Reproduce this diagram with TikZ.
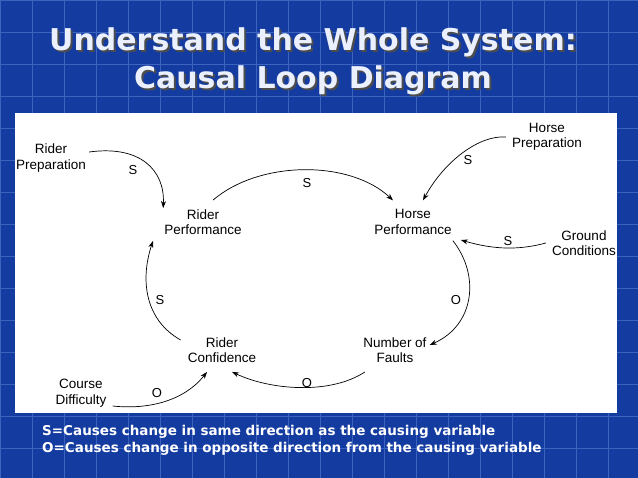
\documentclass[tikz,border=0pt]{standalone}
\usepackage{fontspec}
\setmainfont{Liberation Sans}
\newfontfamily\wideb{DejaVu Sans}
\usetikzlibrary{arrows.meta,calc}
\definecolor{bgblue}{RGB}{20,60,160}
\definecolor{gridblue}{RGB}{60,100,190}
\definecolor{titlewhite}{RGB}{235,240,255}
\tikzset{
  var/.style={font=\fontsize{13.5}{15.5}\selectfont, align=center, inner sep=1pt},
  lab/.style={font=\fontsize{13}{15}\selectfont, inner sep=1pt},
  link/.style={-{Stealth[length=7pt,width=5pt]}, line width=0.7pt},
  ttl/.style={font=\wideb\bfseries\fontsize{30}{38}\selectfont, align=center},
  leg/.style={font=\wideb\bfseries\fontsize{13.5}{15}\selectfont, text=white, anchor=west, inner sep=0pt}
}
\begin{document}
\begin{tikzpicture}[x=1pt,y=-1pt]
\useasboundingbox (0,0) rectangle (638,478);
\fill[bgblue] (0,0) rectangle (638,478);
\foreach \i in {0,32,...,638} \draw[gridblue, line width=0.4pt] (\i,0) -- (\i,478);
\foreach \j in {0,32,...,478} \draw[gridblue, line width=0.4pt] (0,\j) -- (638,\j);
\node[ttl, text=black!70] at (315,63) {Understand the Whole System:\\Causal Loop Diagram};
\node[ttl, text=titlewhite] (title) at (313,61) {Understand the Whole System:\\Causal Loop Diagram};
\fill[white] (15,113) rectangle (617,413);
\node[var, anchor=west] (rprep) at (15,158) {Rider\\Preparation};
\node[var] (rperf) at (203,222) {Rider\\Performance};
\node[var] (hperf) at (413,222) {Horse\\Performance};
\node[var] (hprep) at (547,137) {Horse\\Preparation};
\node[var] (ground) at (584,243) {Ground\\Conditions};
\node[var] (faults) at (395,350) {Number of\\Faults};
\node[var] (rconf) at (222,350) {Rider\\Confidence};
\node[var] (course) at (81,393) {Course\\Difficulty};
\draw[link] ($(rprep.east)+(2,-6)$) .. controls (140,145) and (165,170) .. (rperf.north west);
\draw[link] ($(rperf.north)+(10,-8)$) .. controls (260,160) and (350,160) .. ($(hperf.north)+(-20,-8)$);
\draw[link] ($(hprep.west)+(-5,0)$) .. controls (480,135) and (445,160) .. ($(hperf.north)+(10,-8)$);
\draw[link] ($(ground.west)+(-5,0)$) .. controls (520,250) and (495,250) .. ($(hperf.east)+(8,18)$);
\draw[link] ($(hperf.south east)+(0,5)$) .. controls (480,275) and (475,325) .. ($(faults.east)+(2,-5)$);
\draw[link] ($(faults.south)+(-30,8)$) .. controls (330,395) and (270,390) .. ($(rconf.south)+(10,8)$);
\draw[link] ($(rconf.west)+(-6,-10)$) .. controls (145,320) and (140,280) .. ($(rperf.south)+(-50,5)$);
\draw[link] ($(course.east)+(5,13)$) .. controls (150,410) and (185,400) .. ($(rconf.south)+(-15,8)$);
\node[lab] at (133,170) {S};
\node[lab] at (307,183) {S};
\node[lab] at (468,160) {S};
\node[lab] at (508,241) {S};
\node[lab] at (456,300) {O};
\node[lab] at (307,383) {O};
\node[lab] at (160,300) {S};
\node[lab] at (157,393) {O};
\node[leg] (l1) at (42,432) {S=Causes change in same direction as the causing variable};
\node[leg] (l2) at (42,449) {O=Causes change in opposite direction from the causing variable};
\end{tikzpicture}
\end{document}
